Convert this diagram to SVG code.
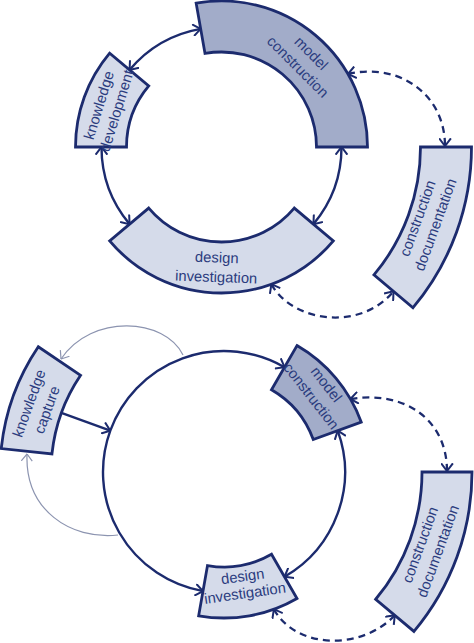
<svg xmlns="http://www.w3.org/2000/svg" width="474" height="643" viewBox="0 0 474 643">
<style>
.node{stroke:#1c2b6e;stroke-width:2.8;stroke-linejoin:miter}
.light{fill:#d5dbea}
.dark{fill:#a2acc9}
.lbl{font-family:"Liberation Sans",Arial,sans-serif;font-size:14.8px;fill:#2b3c7e;text-anchor:middle}
.c{fill:none;stroke:#1c2b6e;stroke-width:2.4;marker-start:url(#a);marker-end:url(#a)}
.c1{fill:none;stroke:#1c2b6e;stroke-width:2.4;marker-end:url(#a)}
.d{fill:none;stroke:#1c2b6e;stroke-width:2.3;stroke-dasharray:7 5;marker-start:url(#a);marker-end:url(#a)}
.g{fill:none;stroke:#8c94b0;stroke-width:1.2;marker-end:url(#ag)}
</style>
<defs>
<marker id="a" viewBox="0 0 9 13" refX="8.3" refY="6.5" markerWidth="9" markerHeight="13" markerUnits="userSpaceOnUse" orient="auto-start-reverse">
<path d="M0.6,0.6 L8.3,6.5 L0.6,12.4" fill="none" stroke="#1c2b6e" stroke-width="2"/>
</marker>
<marker id="ag" viewBox="0 0 8 12" refX="7.5" refY="6" markerWidth="8" markerHeight="12" markerUnits="userSpaceOnUse" orient="auto">
<path d="M0.5,0.5 L7.5,6 L0.5,11.5" fill="none" stroke="#8c94b0" stroke-width="1.2"/>
</marker>
</defs>

<g id="connectors">
<!-- top diagram -->
<path class="c" d="M129.58,69.87 A120,120 0 0 1 200.66,28.82"/>
<path class="c" d="M101.5,147 A120,120 0 0 0 129.58,224.13"/>
<path class="c" d="M341.5,147 A120,120 0 0 1 313.42,224.13"/>
<path class="d" d="M348,74 C 400,62 445,95 445,146"/>
<path class="d" d="M271.4,284.2 C 292,322 360,332 393.5,291.3"/>
<!-- bottom diagram -->
<path class="c" d="M202.99,591.16 A121,121 0 1 1 284.5,367.21"/>
<path class="c" d="M337.7,430.62 A121,121 0 0 1 284.5,576.79"/>
<path class="c1" d="M61.4,412.8 L110.3,430.6"/>
<path class="g" d="M183,355 C 165,318 92,313 61,359"/>
<path class="g" d="M118,535 C 70,540 25,510 27,454"/>
<path class="d" d="M350.4,399 C 405,390 447,420 447,471"/>
<path class="d" d="M273.9,609.2 C 295,648 360,652 394.8,615.3"/>
</g>

<g id="model-construction-1">
<path class="node dark" d="M196.15,3.22 A146,146 0 0 1 367.5,147 L316.5,147 A95,95 0 0 0 205,53.44 Z"/>
<g transform="translate(304.5,60) rotate(45)">
<text class="lbl" x="0" y="-4.5">model</text>
<text class="lbl" x="0" y="14.5">construction</text>
</g>
</g>

<g id="knowledge-development">
<path class="node light" d="M75.5,147 A146,146 0 0 1 109.66,53.15 L148.73,85.93 A95,95 0 0 0 126.5,147 Z"/>
<g transform="translate(108,108) rotate(-73)">
<text class="lbl" x="0" y="-4.5">knowledge</text>
<text class="lbl" x="0" y="14">development</text>
</g>
</g>

<g id="design-investigation-1">
<path class="node light" d="M333.34,240.85 A146,146 0 0 1 109.66,240.85 L148.73,208.07 A95,95 0 0 0 294.27,208.07 Z"/>
<g transform="translate(216.5,267) rotate(2)">
<text class="lbl" x="0" y="-4.5">design</text>
<text class="lbl" x="0" y="15">investigation</text>
</g>
</g>

<g id="construction-documentation-1">
<path class="node light" d="M471.5,147 A250,250 0 0 1 413.01,307.7 L373.94,274.92 A199,199 0 0 0 420.5,147 Z"/>
<g transform="translate(426.5,221.5) rotate(-70)">
<text class="lbl" x="0" y="-4.5">construction</text>
<text class="lbl" x="0" y="14.5">documentation</text>
</g>
</g>

<g id="knowledge-capture">
<path class="node light" d="M1.23,448.59 A224,224 0 0 1 38.3,346.74 L80.58,375.26 A173,173 0 0 0 51.95,453.92 Z"/>
<g transform="translate(38,406.5) rotate(-70)">
<text class="lbl" x="0" y="-4.5">knowledge</text>
<text class="lbl" x="0" y="14.5">capture</text>
</g>
</g>

<g id="model-construction-2">
<path class="node dark" d="M297,345.56 A146,146 0 0 1 361.2,422.07 L313.27,439.51 A95,95 0 0 0 271.5,389.73 Z"/>
<g transform="translate(318.8,390.2) rotate(52)">
<text class="lbl" x="0" y="-4.5">model</text>
<text class="lbl" x="0" y="14.5">construction</text>
</g>
</g>

<g id="design-investigation-2">
<path class="node light" d="M297,598.44 A146,146 0 0 1 198.65,615.78 L207.5,565.56 A95,95 0 0 0 271.5,554.27 Z"/>
<g transform="translate(243.8,584.8) rotate(-8)">
<text class="lbl" x="0" y="-3.5">design</text>
<text class="lbl" x="0" y="13.5">investigation</text>
</g>
</g>

<g id="construction-documentation-2">
<path class="node light" d="M472,472 A248,248 0 0 1 413.98,631.41 L375.68,599.27 A198,198 0 0 0 422,472 Z"/>
<g transform="translate(429,548) rotate(-70)">
<text class="lbl" x="0" y="-4.5">construction</text>
<text class="lbl" x="0" y="14.5">documentation</text>
</g>
</g>
</svg>
